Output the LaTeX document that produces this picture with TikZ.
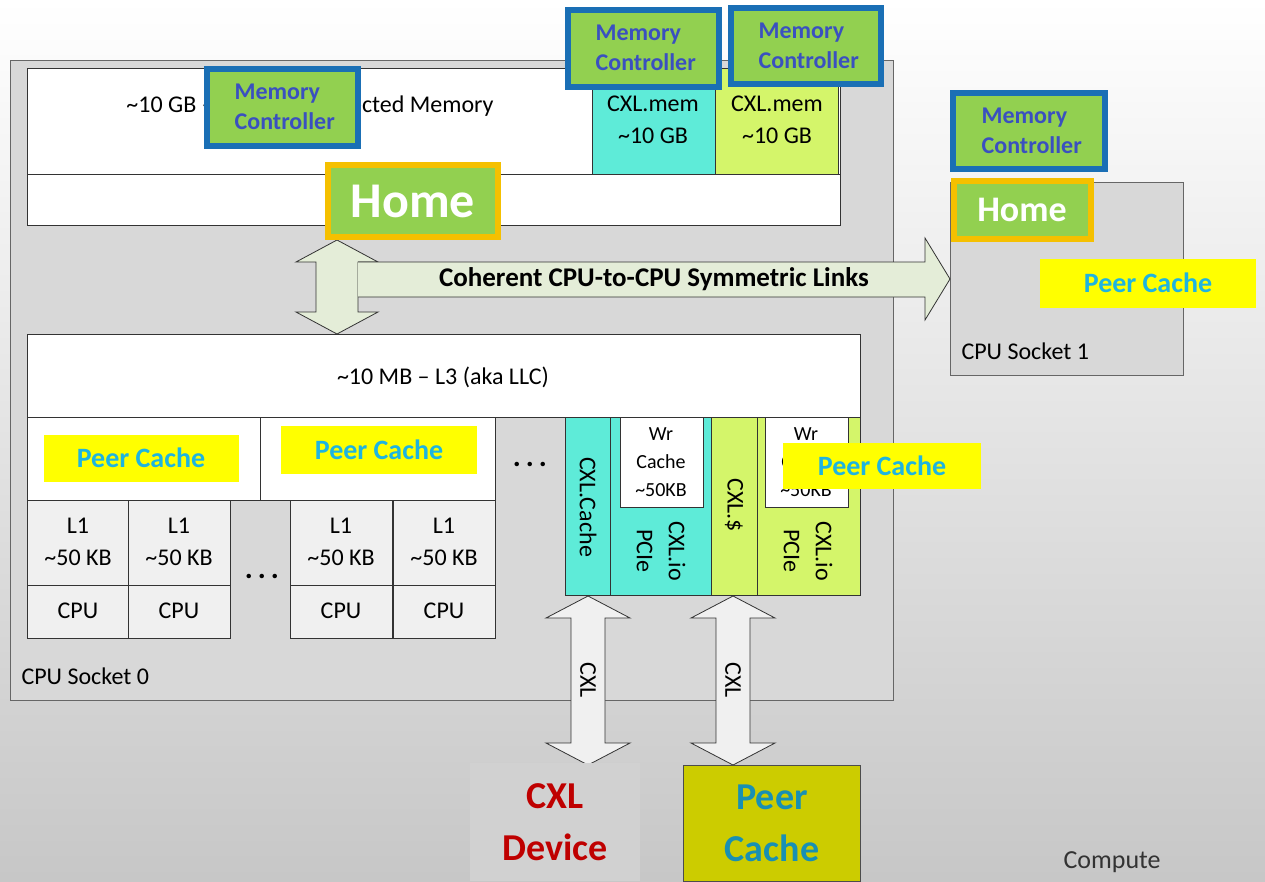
\documentclass[tikz,border=0pt]{standalone}
\usepackage{fontspec}
\setmainfont{Carlito}
\definecolor{mcblue}{HTML}{1A6FB5}
\definecolor{mcgreen}{HTML}{92D050}
\definecolor{mctext}{HTML}{3A50C0}
\definecolor{homeor}{HTML}{F5C000}
\definecolor{cxlcyan}{HTML}{5EEBD8}
\definecolor{cxllime}{HTML}{D4F56A}
\definecolor{peeryel}{HTML}{FFFF00}
\definecolor{peertxt}{HTML}{1EB4E0}
\definecolor{arrowfill}{HTML}{E4EDD8}
\definecolor{sockgray}{HTML}{D8D8D8}
\begin{document}
\begin{tikzpicture}[x=1pt,y=-1pt,
  box/.style={draw=black!80,line width=1pt},
  mc/.style={draw=mcblue,line width=6pt,fill=mcgreen,text=mctext,font=\fontsize{24}{30}\selectfont\bfseries,align=left,inner sep=0pt},
  home/.style={draw=homeor,line width=6pt,fill=mcgreen,text=white,inner sep=0pt},
  peer/.style={fill=peeryel,text=peertxt,font=\fontsize{28}{32}\selectfont\bfseries,inner sep=0pt},
  txt/.style={font=\fontsize{24}{32}\selectfont,align=center},
  dbl/.style={draw=black!80,line width=0.8pt,fill=arrowfill}]
\useasboundingbox (0,0) rectangle (1265,881);
\shade[top color=white,bottom color=black!22] (0,0) rectangle (1265,881);

% socket 0
\draw[fill=sockgray,draw=black!60,line width=1pt] (10,60) rectangle (893,700);
\node[anchor=west,txt] (s0) at (18,676) {CPU Socket 0};

% memory
\draw[box,fill=white] (27,68) rectangle (840,225);
\draw[box] (27,174) -- (840,174);
\node[txt] (mem) at (310,106) {\textasciitilde10 GB -- Directly Connected Memory};
\draw[box,fill=cxlcyan] (592,68) rectangle (715,174);
\draw[box,fill=cxllime] (715,68) rectangle (838,174);
\node[txt] (cm1) at (653,120) {CXL.mem\\\textasciitilde10 GB};
\node[txt] (cm2) at (777,120) {CXL.mem\\\textasciitilde10 GB};

% socket 1
\draw[fill=sockgray,draw=black!60,line width=1pt] (950,182) rectangle (1183,375);
\node[anchor=west,txt] (s1) at (958,351) {CPU Socket 1};
\node[peer,minimum width=216pt,minimum height=49pt] (pc5) at (1148,283) {Peer Cache};

% L3
\draw[box,fill=white] (27,334) rectangle (860,417);
\node[txt] (l3) at (443,377) {\textasciitilde10 MB -- L3 (aka LLC)};

% vertical link arrow
\draw[dbl] (337,240) -- (378,262) -- (358,262) -- (358,312) -- (378,312) -- (337,334)
  -- (296,312) -- (316,312) -- (316,262) -- (296,262) -- cycle;
% horizontal link arrow
\draw[dbl] (358,262) -- (925,262) -- (925,238) -- (950,279) -- (925,320) -- (925,297) -- (358,297);
\node[font=\fontsize{27}{30}\selectfont\bfseries] (lnk) at (654,279) {Coherent CPU-to-CPU Symmetric Links};

% core groups
\draw[box,fill=white] (27,417) rectangle (260,500);
\draw[box,fill=white] (260,417) rectangle (495,500);
\node[peer,minimum width=195pt,minimum height=47pt] (pc1) at (141,458) {Peer Cache};
\node[peer,minimum width=196pt,minimum height=48pt] (pc2) at (379,450) {Peer Cache};
\foreach \x/\n in {27/a,128/b,290/c,393/d}{
  \draw[box,fill=black!6] (\x,500) rectangle ++(102,85);
  \draw[box,fill=black!6] (\x,585) rectangle ++(102,53);
  \node[txt] (l1\n) at (\x+51,542) {L1\\\textasciitilde50 KB};
  \node[txt] (cpu\n) at (\x+51,611) {CPU};
}
\node[font=\fontsize{30}{30}\selectfont\bfseries] (dt1) at (262,576) {.\,.\,.};
\node[font=\fontsize{30}{30}\selectfont\bfseries] (dt2) at (530,464) {.\,.\,.};

% CXL columns
\draw[box,fill=cxlcyan] (565,417) rectangle (610,595);
\draw[box,fill=cxlcyan] (610,417) rectangle (711,595);
\draw[box,fill=cxllime] (711,417) rectangle (757,595);
\draw[box,fill=cxllime] (757,417) rectangle (860,595);
\draw[box,fill=white] (620,417) rectangle (703,507);
\draw[box,fill=white] (765,417) rectangle (848,507);
\node[txt,font=\fontsize{20}{28}\selectfont] (wr1) at (661,462) {Wr\\Cache\\\textasciitilde50KB};
\node[txt,font=\fontsize{20}{28}\selectfont] (wr2) at (806,462) {Wr\\Cache\\\textasciitilde50KB};
\node[txt,rotate=-90] (cc) at (588,507) {CXL.Cache};
\node[txt,rotate=-90] (io1) at (661,551) {CXL.io\\PCIe};
\node[txt,rotate=-90] (cd) at (734,505) {CXL.\$};
\node[txt,rotate=-90] (io2) at (808,551) {CXL.io\\PCIe};
\node[peer,minimum width=198pt,minimum height=46pt] (pc3) at (882,466) {Peer Cache};

% CXL arrows
\foreach \x/\n in {588/a,733/b}{
  \draw[dbl,fill=black!6] (\x,596) -- (\x+42,618) -- (\x+17,618) -- (\x+17,743) -- (\x+42,743) -- (\x,765)
    -- (\x-42,743) -- (\x-17,743) -- (\x-17,618) -- (\x-42,618) -- cycle;
  \node[txt,rotate=-90] (cxl\n) at (\x,680) {CXL};
}

% devices
\node[fill=black!18,text=red!75!black,font=\fontsize{38}{52}\selectfont\bfseries,align=center,
  minimum width=170pt,minimum height=118pt,inner sep=0pt] (dev) at (555,822) {CXL\\Device};
\node[fill=peeryel!80!black,draw=black!70,text=peertxt!80!black,font=\fontsize{38}{52}\selectfont\bfseries,align=center,
  minimum width=177pt,minimum height=116pt,inner sep=0pt] (pc4) at (772,823) {Peer\\Cache};
\node[anchor=west,font=\fontsize{26}{30}\selectfont,text=black!80] (cmp) at (1060,862) {Compute};

% memory controllers and homes
\node[mc,minimum width=151pt,minimum height=77pt] (mc1) at (643,48) {\ Memory\\\ Controller};
\node[mc,minimum width=150pt,minimum height=76pt] (mc2) at (806,46) {\ Memory\\\ Controller};
\node[mc,minimum width=151pt,minimum height=77pt] (mc3) at (282,107) {\ Memory\\\ Controller};
\node[mc,minimum width=152pt,minimum height=76pt] (mc4) at (1029,131) {\ Memory\\\ Controller};
\node[home,font=\fontsize{50}{54}\selectfont\bfseries,minimum width=170pt,minimum height=72pt] (h0) at (413,201) {Home};
\node[home,font=\fontsize{36}{40}\selectfont\bfseries,minimum width=137pt,minimum height=58pt] (h1) at (1022,210) {Home};
\end{tikzpicture}
\end{document}
